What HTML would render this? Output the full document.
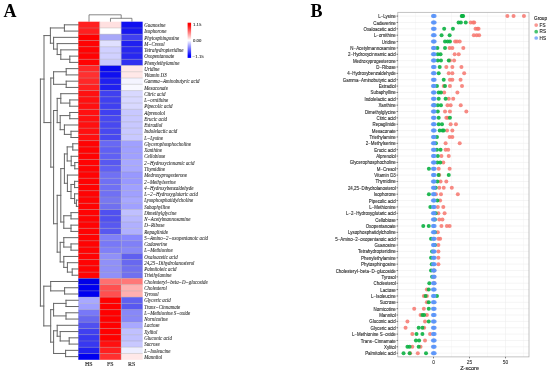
<!DOCTYPE html><html><head><meta charset="utf-8"><style>html,body{margin:0;padding:0;background:#fff;}svg{display:block}</style></head><body>
<svg width="550" height="375" viewBox="0 0 550 375">
<defs><filter id="tb" x="-5%" y="-20%" width="110%" height="140%"><feGaussianBlur stdDeviation="0.3"/></filter></defs>
<rect width="550" height="375" fill="#fff"/>
<text x="3.5" y="16.9" font-family="Liberation Serif, serif" font-weight="bold" font-size="18">A</text>
<text x="310.6" y="16.9" font-family="Liberation Serif, serif" font-weight="bold" font-size="18">B</text>
<rect x="78.3" y="21.7" width="21.45" height="6.31" fill="#FF2020"/>
<rect x="99.75" y="21.7" width="21.45" height="6.31" fill="#FFE0E0"/>
<rect x="121.2" y="21.7" width="21.45" height="6.31" fill="#1010F0"/>
<rect x="78.3" y="27.96" width="21.45" height="6.31" fill="#FF2020"/>
<rect x="99.75" y="27.96" width="21.45" height="6.31" fill="#FFFFFF"/>
<rect x="121.2" y="27.96" width="21.45" height="6.31" fill="#1818F0"/>
<rect x="78.3" y="34.22" width="21.45" height="6.31" fill="#FF0000"/>
<rect x="99.75" y="34.22" width="21.45" height="6.31" fill="#A8A8F8"/>
<rect x="121.2" y="34.22" width="21.45" height="6.31" fill="#4040F0"/>
<rect x="78.3" y="40.48" width="21.45" height="6.31" fill="#FF0303"/>
<rect x="99.75" y="40.48" width="21.45" height="6.31" fill="#E0E0FF"/>
<rect x="121.2" y="40.48" width="21.45" height="6.31" fill="#2020F0"/>
<rect x="78.3" y="46.74" width="21.45" height="6.31" fill="#FF0303"/>
<rect x="99.75" y="46.74" width="21.45" height="6.31" fill="#D0D0FF"/>
<rect x="121.2" y="46.74" width="21.45" height="6.31" fill="#2828F0"/>
<rect x="78.3" y="53" width="21.45" height="6.31" fill="#FF0303"/>
<rect x="99.75" y="53" width="21.45" height="6.31" fill="#D0D0FF"/>
<rect x="121.2" y="53" width="21.45" height="6.31" fill="#2828F0"/>
<rect x="78.3" y="59.26" width="21.45" height="6.31" fill="#FF0303"/>
<rect x="99.75" y="59.26" width="21.45" height="6.31" fill="#C8C8FF"/>
<rect x="121.2" y="59.26" width="21.45" height="6.31" fill="#3030F0"/>
<rect x="78.3" y="65.52" width="21.45" height="6.31" fill="#FF2828"/>
<rect x="99.75" y="65.52" width="21.45" height="6.31" fill="#0808F0"/>
<rect x="121.2" y="65.52" width="21.45" height="6.31" fill="#FFE8E8"/>
<rect x="78.3" y="71.78" width="21.45" height="6.31" fill="#FF3030"/>
<rect x="99.75" y="71.78" width="21.45" height="6.31" fill="#1010F0"/>
<rect x="121.2" y="71.78" width="21.45" height="6.31" fill="#FFE8E8"/>
<rect x="78.3" y="78.04" width="21.45" height="6.31" fill="#FF2828"/>
<rect x="99.75" y="78.04" width="21.45" height="6.31" fill="#2020F0"/>
<rect x="121.2" y="78.04" width="21.45" height="6.31" fill="#F4F4FF"/>
<rect x="78.3" y="84.3" width="21.45" height="6.31" fill="#FF2020"/>
<rect x="99.75" y="84.3" width="21.45" height="6.31" fill="#2020F0"/>
<rect x="121.2" y="84.3" width="21.45" height="6.31" fill="#F8F8FF"/>
<rect x="78.3" y="90.56" width="21.45" height="6.31" fill="#FF1010"/>
<rect x="99.75" y="90.56" width="21.45" height="6.31" fill="#4040F0"/>
<rect x="121.2" y="90.56" width="21.45" height="6.31" fill="#D8D8FF"/>
<rect x="78.3" y="96.82" width="21.45" height="6.31" fill="#FF1010"/>
<rect x="99.75" y="96.82" width="21.45" height="6.31" fill="#4040F0"/>
<rect x="121.2" y="96.82" width="21.45" height="6.31" fill="#D8D8FF"/>
<rect x="78.3" y="103.08" width="21.45" height="6.31" fill="#FF1010"/>
<rect x="99.75" y="103.08" width="21.45" height="6.31" fill="#4040F0"/>
<rect x="121.2" y="103.08" width="21.45" height="6.31" fill="#D8D8FF"/>
<rect x="78.3" y="109.34" width="21.45" height="6.31" fill="#FF1010"/>
<rect x="99.75" y="109.34" width="21.45" height="6.31" fill="#4040F0"/>
<rect x="121.2" y="109.34" width="21.45" height="6.31" fill="#C8C8FF"/>
<rect x="78.3" y="115.6" width="21.45" height="6.31" fill="#FF1010"/>
<rect x="99.75" y="115.6" width="21.45" height="6.31" fill="#4848F0"/>
<rect x="121.2" y="115.6" width="21.45" height="6.31" fill="#C8C8FF"/>
<rect x="78.3" y="121.86" width="21.45" height="6.31" fill="#FF1010"/>
<rect x="99.75" y="121.86" width="21.45" height="6.31" fill="#4848F0"/>
<rect x="121.2" y="121.86" width="21.45" height="6.31" fill="#C8C8FF"/>
<rect x="78.3" y="128.12" width="21.45" height="6.31" fill="#FF1010"/>
<rect x="99.75" y="128.12" width="21.45" height="6.31" fill="#4848F0"/>
<rect x="121.2" y="128.12" width="21.45" height="6.31" fill="#C8C8FF"/>
<rect x="78.3" y="134.38" width="21.45" height="6.31" fill="#FF1010"/>
<rect x="99.75" y="134.38" width="21.45" height="6.31" fill="#4848F0"/>
<rect x="121.2" y="134.38" width="21.45" height="6.31" fill="#C8C8FF"/>
<rect x="78.3" y="140.64" width="21.45" height="6.31" fill="#FF0303"/>
<rect x="99.75" y="140.64" width="21.45" height="6.31" fill="#6868F4"/>
<rect x="121.2" y="140.64" width="21.45" height="6.31" fill="#A0A0FF"/>
<rect x="78.3" y="146.9" width="21.45" height="6.31" fill="#FF0303"/>
<rect x="99.75" y="146.9" width="21.45" height="6.31" fill="#6060F4"/>
<rect x="121.2" y="146.9" width="21.45" height="6.31" fill="#A0A0FF"/>
<rect x="78.3" y="153.16" width="21.45" height="6.31" fill="#FF0303"/>
<rect x="99.75" y="153.16" width="21.45" height="6.31" fill="#6060F4"/>
<rect x="121.2" y="153.16" width="21.45" height="6.31" fill="#A0A0FF"/>
<rect x="78.3" y="159.42" width="21.45" height="6.31" fill="#FF0303"/>
<rect x="99.75" y="159.42" width="21.45" height="6.31" fill="#5858F0"/>
<rect x="121.2" y="159.42" width="21.45" height="6.31" fill="#A8A8FF"/>
<rect x="78.3" y="165.68" width="21.45" height="6.31" fill="#FF0303"/>
<rect x="99.75" y="165.68" width="21.45" height="6.31" fill="#6060F4"/>
<rect x="121.2" y="165.68" width="21.45" height="6.31" fill="#A8A8FF"/>
<rect x="78.3" y="171.94" width="21.45" height="6.31" fill="#FF0303"/>
<rect x="99.75" y="171.94" width="21.45" height="6.31" fill="#7070F4"/>
<rect x="121.2" y="171.94" width="21.45" height="6.31" fill="#9898FF"/>
<rect x="78.3" y="178.2" width="21.45" height="6.31" fill="#FF0303"/>
<rect x="99.75" y="178.2" width="21.45" height="6.31" fill="#7070F4"/>
<rect x="121.2" y="178.2" width="21.45" height="6.31" fill="#9898FF"/>
<rect x="78.3" y="184.46" width="21.45" height="6.31" fill="#FF0303"/>
<rect x="99.75" y="184.46" width="21.45" height="6.31" fill="#7070F4"/>
<rect x="121.2" y="184.46" width="21.45" height="6.31" fill="#A0A0FF"/>
<rect x="78.3" y="190.72" width="21.45" height="6.31" fill="#FF0303"/>
<rect x="99.75" y="190.72" width="21.45" height="6.31" fill="#7070F4"/>
<rect x="121.2" y="190.72" width="21.45" height="6.31" fill="#A0A0FF"/>
<rect x="78.3" y="196.98" width="21.45" height="6.31" fill="#FF0303"/>
<rect x="99.75" y="196.98" width="21.45" height="6.31" fill="#7878F0"/>
<rect x="121.2" y="196.98" width="21.45" height="6.31" fill="#A8A8FF"/>
<rect x="78.3" y="203.24" width="21.45" height="6.31" fill="#FF0303"/>
<rect x="99.75" y="203.24" width="21.45" height="6.31" fill="#7070F0"/>
<rect x="121.2" y="203.24" width="21.45" height="6.31" fill="#A0A0FF"/>
<rect x="78.3" y="209.5" width="21.45" height="6.31" fill="#FF0303"/>
<rect x="99.75" y="209.5" width="21.45" height="6.31" fill="#5050F0"/>
<rect x="121.2" y="209.5" width="21.45" height="6.31" fill="#C0C0FF"/>
<rect x="78.3" y="215.76" width="21.45" height="6.31" fill="#FF0303"/>
<rect x="99.75" y="215.76" width="21.45" height="6.31" fill="#5050F0"/>
<rect x="121.2" y="215.76" width="21.45" height="6.31" fill="#B8B8FF"/>
<rect x="78.3" y="222.02" width="21.45" height="6.31" fill="#FF0303"/>
<rect x="99.75" y="222.02" width="21.45" height="6.31" fill="#5858F0"/>
<rect x="121.2" y="222.02" width="21.45" height="6.31" fill="#B0B0FF"/>
<rect x="78.3" y="228.28" width="21.45" height="6.31" fill="#FF0303"/>
<rect x="99.75" y="228.28" width="21.45" height="6.31" fill="#5858F0"/>
<rect x="121.2" y="228.28" width="21.45" height="6.31" fill="#B0B0FF"/>
<rect x="78.3" y="234.54" width="21.45" height="6.31" fill="#FF0303"/>
<rect x="99.75" y="234.54" width="21.45" height="6.31" fill="#8080F8"/>
<rect x="121.2" y="234.54" width="21.45" height="6.31" fill="#8888FF"/>
<rect x="78.3" y="240.8" width="21.45" height="6.31" fill="#FF0303"/>
<rect x="99.75" y="240.8" width="21.45" height="6.31" fill="#7878F8"/>
<rect x="121.2" y="240.8" width="21.45" height="6.31" fill="#8080F8"/>
<rect x="78.3" y="247.06" width="21.45" height="6.31" fill="#FF0303"/>
<rect x="99.75" y="247.06" width="21.45" height="6.31" fill="#8080F8"/>
<rect x="121.2" y="247.06" width="21.45" height="6.31" fill="#8888F8"/>
<rect x="78.3" y="253.32" width="21.45" height="6.31" fill="#FF0303"/>
<rect x="99.75" y="253.32" width="21.45" height="6.31" fill="#9090F8"/>
<rect x="121.2" y="253.32" width="21.45" height="6.31" fill="#6060F0"/>
<rect x="78.3" y="259.58" width="21.45" height="6.31" fill="#FF0303"/>
<rect x="99.75" y="259.58" width="21.45" height="6.31" fill="#9090F8"/>
<rect x="121.2" y="259.58" width="21.45" height="6.31" fill="#6868F0"/>
<rect x="78.3" y="265.84" width="21.45" height="6.31" fill="#FF0303"/>
<rect x="99.75" y="265.84" width="21.45" height="6.31" fill="#9090F8"/>
<rect x="121.2" y="265.84" width="21.45" height="6.31" fill="#7070F0"/>
<rect x="78.3" y="272.1" width="21.45" height="6.31" fill="#FF0303"/>
<rect x="99.75" y="272.1" width="21.45" height="6.31" fill="#9090F8"/>
<rect x="121.2" y="272.1" width="21.45" height="6.31" fill="#7070F0"/>
<rect x="78.3" y="278.36" width="21.45" height="6.31" fill="#0000E8"/>
<rect x="99.75" y="278.36" width="21.45" height="6.31" fill="#FF7070"/>
<rect x="121.2" y="278.36" width="21.45" height="6.31" fill="#FF7878"/>
<rect x="78.3" y="284.62" width="21.45" height="6.31" fill="#0000F0"/>
<rect x="99.75" y="284.62" width="21.45" height="6.31" fill="#FF5050"/>
<rect x="121.2" y="284.62" width="21.45" height="6.31" fill="#FFB0B0"/>
<rect x="78.3" y="290.88" width="21.45" height="6.31" fill="#0000F0"/>
<rect x="99.75" y="290.88" width="21.45" height="6.31" fill="#FF5050"/>
<rect x="121.2" y="290.88" width="21.45" height="6.31" fill="#FFB0B0"/>
<rect x="78.3" y="297.14" width="21.45" height="6.31" fill="#A8A8FF"/>
<rect x="99.75" y="297.14" width="21.45" height="6.31" fill="#FF0000"/>
<rect x="121.2" y="297.14" width="21.45" height="6.31" fill="#6060F0"/>
<rect x="78.3" y="303.4" width="21.45" height="6.31" fill="#A0A0FF"/>
<rect x="99.75" y="303.4" width="21.45" height="6.31" fill="#FF0000"/>
<rect x="121.2" y="303.4" width="21.45" height="6.31" fill="#5858F0"/>
<rect x="78.3" y="309.66" width="21.45" height="6.31" fill="#7878F8"/>
<rect x="99.75" y="309.66" width="21.45" height="6.31" fill="#FF0000"/>
<rect x="121.2" y="309.66" width="21.45" height="6.31" fill="#8888F8"/>
<rect x="78.3" y="315.92" width="21.45" height="6.31" fill="#6868F0"/>
<rect x="99.75" y="315.92" width="21.45" height="6.31" fill="#FF0000"/>
<rect x="121.2" y="315.92" width="21.45" height="6.31" fill="#8888F8"/>
<rect x="78.3" y="322.18" width="21.45" height="6.31" fill="#5050F0"/>
<rect x="99.75" y="322.18" width="21.45" height="6.31" fill="#FF0000"/>
<rect x="121.2" y="322.18" width="21.45" height="6.31" fill="#A8A8FF"/>
<rect x="78.3" y="328.44" width="21.45" height="6.31" fill="#4040F0"/>
<rect x="99.75" y="328.44" width="21.45" height="6.31" fill="#FF0000"/>
<rect x="121.2" y="328.44" width="21.45" height="6.31" fill="#C0C0FF"/>
<rect x="78.3" y="334.7" width="21.45" height="6.31" fill="#3838F0"/>
<rect x="99.75" y="334.7" width="21.45" height="6.31" fill="#FF0000"/>
<rect x="121.2" y="334.7" width="21.45" height="6.31" fill="#C0C0FF"/>
<rect x="78.3" y="340.96" width="21.45" height="6.31" fill="#3838F0"/>
<rect x="99.75" y="340.96" width="21.45" height="6.31" fill="#FF1010"/>
<rect x="121.2" y="340.96" width="21.45" height="6.31" fill="#C8C8FF"/>
<rect x="78.3" y="347.22" width="21.45" height="6.31" fill="#2020F0"/>
<rect x="99.75" y="347.22" width="21.45" height="6.31" fill="#FF2020"/>
<rect x="121.2" y="347.22" width="21.45" height="6.31" fill="#EEEEFF"/>
<rect x="78.3" y="353.48" width="21.45" height="6.31" fill="#0000F0"/>
<rect x="99.75" y="353.48" width="21.45" height="6.31" fill="#FF3030"/>
<rect x="121.2" y="353.48" width="21.45" height="6.31" fill="#FFE8E8"/>
<path d="M78.3 27.96H142.65M78.3 34.22H142.65M78.3 40.48H142.65M78.3 46.74H142.65M78.3 53H142.65M78.3 59.26H142.65M78.3 65.52H142.65M78.3 71.78H142.65M78.3 78.04H142.65M78.3 84.3H142.65M78.3 90.56H142.65M78.3 96.82H142.65M78.3 103.08H142.65M78.3 109.34H142.65M78.3 115.6H142.65M78.3 121.86H142.65M78.3 128.12H142.65M78.3 134.38H142.65M78.3 140.64H142.65M78.3 146.9H142.65M78.3 153.16H142.65M78.3 159.42H142.65M78.3 165.68H142.65M78.3 171.94H142.65M78.3 178.2H142.65M78.3 184.46H142.65M78.3 190.72H142.65M78.3 196.98H142.65M78.3 203.24H142.65M78.3 209.5H142.65M78.3 215.76H142.65M78.3 222.02H142.65M78.3 228.28H142.65M78.3 234.54H142.65M78.3 240.8H142.65M78.3 247.06H142.65M78.3 253.32H142.65M78.3 259.58H142.65M78.3 265.84H142.65M78.3 272.1H142.65M78.3 278.36H142.65M78.3 284.62H142.65M78.3 290.88H142.65M78.3 297.14H142.65M78.3 303.4H142.65M78.3 309.66H142.65M78.3 315.92H142.65M78.3 322.18H142.65M78.3 328.44H142.65M78.3 334.7H142.65M78.3 340.96H142.65M78.3 347.22H142.65M78.3 353.48H142.65" stroke="#a0a0a0" stroke-opacity="0.5" stroke-width="0.7" fill="none"/>
<path d="M99.75 21.7V359.74M121.2 21.7V359.74" stroke="#b0b0b0" stroke-opacity="0.5" stroke-width="0.8" fill="none"/>
<path d="M64.4 24.83L64.4 31.09M64.4 24.83L78.3 24.83M64.4 31.09L78.3 31.09M69.8 56.13L69.8 62.39M69.8 56.13L78.3 56.13M69.8 62.39L78.3 62.39M60.8 49.87L60.8 59.26M60.8 49.87L78.3 49.87M60.8 59.26L69.8 59.26M57.2 43.61L57.2 54.56M57.2 43.61L78.3 43.61M57.2 54.56L60.8 54.56M53.6 37.35L53.6 49.09M53.6 37.35L78.3 37.35M53.6 49.09L57.2 49.09M50.4 27.96L50.4 43.22M50.4 27.96L64.4 27.96M50.4 43.22L53.6 43.22M66.2 68.65L66.2 74.91M66.2 68.65L78.3 68.65M66.2 74.91L78.3 74.91M66.2 81.17L66.2 87.43M66.2 81.17L78.3 81.17M66.2 87.43L78.3 87.43M53.6 71.78L53.6 84.3M53.6 71.78L66.2 71.78M53.6 84.3L66.2 84.3M69.8 99.95L69.8 106.21M69.8 99.95L78.3 99.95M69.8 106.21L78.3 106.21M60.8 93.69L60.8 103.08M60.8 93.69L78.3 93.69M60.8 103.08L69.8 103.08M69.8 112.47L69.8 118.73M69.8 112.47L78.3 112.47M69.8 118.73L78.3 118.73M71 131.25L71 137.51M71 131.25L78.3 131.25M71 137.51L78.3 137.51M64.4 124.99L64.4 134.38M64.4 124.99L78.3 124.99M64.4 134.38L71 134.38M60.2 115.6L60.2 129.69M60.2 115.6L69.8 115.6M60.2 129.69L64.4 129.69M57.2 98.38L57.2 122.64M57.2 98.38L60.8 98.38M57.2 122.64L60.2 122.64M72.8 143.77L72.8 150.03M72.8 143.77L78.3 143.77M72.8 150.03L78.3 150.03M74.8 162.55L74.8 168.81M74.8 162.55L78.3 162.55M74.8 168.81L78.3 168.81M71.2 156.29L71.2 165.68M71.2 156.29L78.3 156.29M71.2 165.68L74.8 165.68M67.2 146.9L67.2 160.98M67.2 146.9L72.8 146.9M67.2 160.98L71.2 160.98M74.6 181.33L74.6 187.59M74.6 181.33L78.3 181.33M74.6 187.59L78.3 187.59M76.4 200.11L76.4 206.37M76.4 200.11L78.3 200.11M76.4 206.37L78.3 206.37M74.6 193.85L74.6 203.24M74.6 193.85L78.3 193.85M74.6 203.24L76.4 203.24M71 184.46L71 198.54M71 184.46L74.6 184.46M71 198.54L74.6 198.54M67.4 175.07L67.4 191.5M67.4 175.07L78.3 175.07M67.4 191.5L71 191.5M64.4 153.94L64.4 183.29M64.4 153.94L67.2 153.94M64.4 183.29L67.4 183.29M71 212.63L71 218.89M71 212.63L78.3 212.63M71 218.89L78.3 218.89M71 225.15L71 231.41M71 225.15L78.3 225.15M71 231.41L78.3 231.41M63.8 215.76L63.8 228.28M63.8 215.76L71 215.76M63.8 228.28L71 228.28M60.8 168.61L60.8 222.02M60.8 168.61L64.4 168.61M60.8 222.02L63.8 222.02M71 243.93L71 250.19M71 243.93L78.3 243.93M71 250.19L78.3 250.19M63.8 237.67L63.8 247.06M63.8 237.67L78.3 237.67M63.8 247.06L71 247.06M72.2 268.97L72.2 275.23M72.2 268.97L78.3 268.97M72.2 275.23L78.3 275.23M67.4 262.71L67.4 272.1M67.4 262.71L78.3 262.71M67.4 272.1L72.2 272.1M63.8 256.45L63.8 267.4M63.8 256.45L78.3 256.45M63.8 267.4L67.4 267.4M60.2 242.36L60.2 261.93M60.2 242.36L63.8 242.36M60.2 261.93L63.8 261.93M57.2 195.32L57.2 252.15M57.2 195.32L60.8 195.32M57.2 252.15L60.2 252.15M53.6 110.51L53.6 223.73M53.6 110.51L57.2 110.51M53.6 223.73L57.2 223.73M50.8 78.04L50.8 167.12M50.8 78.04L53.6 78.04M50.8 167.12L53.6 167.12M44 35.59L44 122.58M44 35.59L50.4 35.59M44 122.58L50.8 122.58M64.6 287.75L64.6 294.01M64.6 287.75L78.3 287.75M64.6 294.01L78.3 294.01M50.7 281.49L50.7 290.88M50.7 281.49L78.3 281.49M50.7 290.88L64.6 290.88M66 300.27L66 306.53M66 300.27L78.3 300.27M66 306.53L78.3 306.53M66 312.79L66 319.05M66 312.79L78.3 312.79M66 319.05L78.3 319.05M53.6 303.4L53.6 315.92M53.6 303.4L66 303.4M53.6 315.92L66 315.92M69.2 337.83L69.2 344.09M69.2 337.83L78.3 337.83M69.2 344.09L78.3 344.09M60.2 331.57L60.2 340.96M60.2 331.57L78.3 331.57M60.2 340.96L69.2 340.96M57.2 325.31L57.2 336.26M57.2 325.31L78.3 325.31M57.2 336.26L60.2 336.26M65.6 350.35L65.6 356.61M65.6 350.35L78.3 350.35M65.6 356.61L78.3 356.61M53.6 330.79L53.6 353.48M53.6 330.79L57.2 330.79M53.6 353.48L65.6 353.48M50.7 309.66L50.7 342.13M50.7 309.66L53.6 309.66M50.7 342.13L53.6 342.13M43.8 286.18L43.8 325.9M43.8 286.18L50.7 286.18M43.8 325.9L50.7 325.9M40.4 79.09L40.4 306.04M40.4 79.09L44 79.09M40.4 306.04L43.8 306.04" stroke="#666" stroke-width="1" fill="none" stroke-linecap="square"/>
<path d="M89.02 21.7V14.8H121.2V18.3M110.47 21.7V18.3H131.93V21.7" stroke="#555" stroke-width="0.7" fill="none"/>
<g transform="translate(144.2 0) scale(0.91 1)" font-family="Liberation Serif, serif" font-style="italic" font-size="5.4" fill="#2a2a2a" stroke="#2a2a2a" stroke-width="0.08" filter="url(#tb)">
<text x="0" y="27.03">Guanosine</text>
<text x="0" y="33.29">Isophorone</text>
<text x="0" y="39.55">Phytosphingosine</text>
<text x="0" y="45.81">M−Cresol</text>
<text x="0" y="52.07">Tetrahydropteridine</text>
<text x="0" y="58.33">Oxopentanoate</text>
<text x="0" y="64.59">Phenylethylamine</text>
<text x="0" y="70.85">Uridine</text>
<text x="0" y="77.11">Vitamin D3</text>
<text x="0" y="83.37">Gamma−Aminobutyric acid</text>
<text x="0" y="89.63">Mesaconate</text>
<text x="0" y="95.89">Citric acid</text>
<text x="0" y="102.15">L−ornithine</text>
<text x="0" y="108.41">Pipecolic acid</text>
<text x="0" y="114.67">Alprenolol</text>
<text x="0" y="120.93">Erucic acid</text>
<text x="0" y="127.19">Estradiol</text>
<text x="0" y="133.45">Indolelactic acid</text>
<text x="0" y="139.71">L−Lysine</text>
<text x="0" y="145.97">Glycerophosphocholine</text>
<text x="0" y="152.23">Xanthine</text>
<text x="0" y="158.49">Cellobiose</text>
<text x="0" y="164.75">2−Hydroxycinnamic acid</text>
<text x="0" y="171.01">Thymidine</text>
<text x="0" y="177.27">Medroxyprogesterone</text>
<text x="0" y="183.53">2−Methylserine</text>
<text x="0" y="189.79">4−Hydroxybenzaldehyde</text>
<text x="0" y="196.05">L−2−Hydroxyglutaric acid</text>
<text x="0" y="202.31">Lysophosphatidylcholine</text>
<text x="0" y="208.57">Subaphylline</text>
<text x="0" y="214.83">Dimethylglycine</text>
<text x="0" y="221.09">N−Acetylmannosamine</text>
<text x="0" y="227.35">D−Ribose</text>
<text x="0" y="233.61">Repaglinide</text>
<text x="0" y="239.87">5−Amino−2−oxopentanoic acid</text>
<text x="0" y="246.13">Cadaverine</text>
<text x="0" y="252.39">L−Methionine</text>
<text x="0" y="258.65">Oxaloacetic acid</text>
<text x="0" y="264.91">24,25−Dihydrolanosterol</text>
<text x="0" y="271.17">Palmitoleic acid</text>
<text x="0" y="277.43">Triethylamine</text>
<text x="0" y="283.69">Cholesteryl−beta−D−glucoside</text>
<text x="0" y="289.95">Cholesterol</text>
<text x="0" y="296.21">Tyrosol</text>
<text x="0" y="302.47">Glyceric acid</text>
<text x="0" y="308.73">Trans−Cinnamate</text>
<text x="0" y="314.99">L−Methionine S−oxide</text>
<text x="0" y="321.25">Nornicotine</text>
<text x="0" y="327.51">Lactose</text>
<text x="0" y="333.77">Xylitol</text>
<text x="0" y="340.03">Gluconic acid</text>
<text x="0" y="346.29">Sucrose</text>
<text x="0" y="352.55">L−Isoleucine</text>
<text x="0" y="358.81">Mannitol</text>
</g>
<g font-family="Liberation Serif, serif" font-size="5.9" fill="#2a2a2a" stroke="#2a2a2a" stroke-width="0.14" text-anchor="middle" filter="url(#tb)">
<text x="88.72" y="365.9">HS</text>
<text x="110.17" y="365.9">FS</text>
<text x="131.62" y="365.9">RS</text>
</g>
<defs><linearGradient id="lg" x1="0" y1="0" x2="0" y2="1"><stop offset="0" stop-color="#f00"/><stop offset="0.06" stop-color="#f00"/><stop offset="0.5" stop-color="#fff"/><stop offset="0.94" stop-color="#00f"/><stop offset="1" stop-color="#00f"/></linearGradient></defs>
<rect x="187.6" y="22.7" width="3.5" height="35.2" fill="url(#lg)"/>
<g font-family="Liberation Serif, serif" font-size="4.8" fill="#333" stroke="#333" stroke-width="0.1" filter="url(#tb)">
<text x="193" y="26.4">1.15</text>
<text x="193" y="42">0.00</text>
<text x="192.6" y="57.7">−1.15</text>
</g>
<rect x="397.8" y="12.3" width="131.2" height="344.6" fill="#fff"/>
<path d="M415.5 12.3V356.9M451.5 12.3V356.9M487.5 12.3V356.9M523.5 12.3V356.9" stroke="#f2f2f2" stroke-width="0.5" fill="none"/>
<path d="M433.5 12.3V356.9M469.5 12.3V356.9M505.5 12.3V356.9M397.8 16.1H529M397.8 22.46H529M397.8 28.82H529M397.8 35.18H529M397.8 41.54H529M397.8 47.9H529M397.8 54.26H529M397.8 60.62H529M397.8 66.98H529M397.8 73.34H529M397.8 79.7H529M397.8 86.06H529M397.8 92.42H529M397.8 98.78H529M397.8 105.14H529M397.8 111.5H529M397.8 117.86H529M397.8 124.22H529M397.8 130.58H529M397.8 136.94H529M397.8 143.3H529M397.8 149.66H529M397.8 156.02H529M397.8 162.38H529M397.8 168.74H529M397.8 175.1H529M397.8 181.46H529M397.8 187.82H529M397.8 194.18H529M397.8 200.54H529M397.8 206.9H529M397.8 213.26H529M397.8 219.62H529M397.8 225.98H529M397.8 232.34H529M397.8 238.7H529M397.8 245.06H529M397.8 251.42H529M397.8 257.78H529M397.8 264.14H529M397.8 270.5H529M397.8 276.86H529M397.8 283.22H529M397.8 289.58H529M397.8 295.94H529M397.8 302.3H529M397.8 308.66H529M397.8 315.02H529M397.8 321.38H529M397.8 327.74H529M397.8 334.1H529M397.8 340.46H529M397.8 346.82H529M397.8 353.18H529" stroke="#ececec" stroke-width="0.55" fill="none"/>
<circle cx="507.37" cy="16.1" r="2" fill="#F6756D" fill-opacity="0.85"/>
<circle cx="513.56" cy="16.1" r="2" fill="#F6756D" fill-opacity="0.85"/>
<circle cx="523.93" cy="16.1" r="2" fill="#F6756D" fill-opacity="0.85"/>
<circle cx="461.72" cy="16.1" r="2" fill="#0AB040" fill-opacity="0.9"/>
<circle cx="462.44" cy="16.1" r="2" fill="#0AB040" fill-opacity="0.9"/>
<circle cx="463.16" cy="16.1" r="2" fill="#0AB040" fill-opacity="0.9"/>
<circle cx="432.92" cy="16.1" r="2" fill="#5C95F8" fill-opacity="0.88"/>
<circle cx="433.79" cy="16.1" r="2" fill="#5C95F8" fill-opacity="0.88"/>
<circle cx="434.65" cy="16.1" r="2" fill="#5C95F8" fill-opacity="0.88"/>
<circle cx="470.65" cy="22.46" r="2" fill="#F6756D" fill-opacity="0.85"/>
<circle cx="473.1" cy="22.46" r="2" fill="#F6756D" fill-opacity="0.85"/>
<circle cx="474.25" cy="22.46" r="2" fill="#F6756D" fill-opacity="0.85"/>
<circle cx="458.56" cy="22.46" r="2" fill="#0AB040" fill-opacity="0.9"/>
<circle cx="460.86" cy="22.46" r="2" fill="#0AB040" fill-opacity="0.9"/>
<circle cx="465.76" cy="22.46" r="2" fill="#0AB040" fill-opacity="0.9"/>
<circle cx="432.92" cy="22.46" r="2" fill="#5C95F8" fill-opacity="0.88"/>
<circle cx="433.79" cy="22.46" r="2" fill="#5C95F8" fill-opacity="0.88"/>
<circle cx="434.65" cy="22.46" r="2" fill="#5C95F8" fill-opacity="0.88"/>
<circle cx="475.55" cy="28.82" r="2" fill="#F6756D" fill-opacity="0.85"/>
<circle cx="477.42" cy="28.82" r="2" fill="#F6756D" fill-opacity="0.85"/>
<circle cx="478.57" cy="28.82" r="2" fill="#F6756D" fill-opacity="0.85"/>
<circle cx="444.16" cy="28.82" r="2" fill="#0AB040" fill-opacity="0.9"/>
<circle cx="452.94" cy="28.82" r="2" fill="#0AB040" fill-opacity="0.9"/>
<circle cx="432.92" cy="28.82" r="2" fill="#5C95F8" fill-opacity="0.88"/>
<circle cx="433.79" cy="28.82" r="2" fill="#5C95F8" fill-opacity="0.88"/>
<circle cx="434.65" cy="28.82" r="2" fill="#5C95F8" fill-opacity="0.88"/>
<circle cx="473.82" cy="35.18" r="2" fill="#F6756D" fill-opacity="0.85"/>
<circle cx="476.7" cy="35.18" r="2" fill="#F6756D" fill-opacity="0.85"/>
<circle cx="479.15" cy="35.18" r="2" fill="#F6756D" fill-opacity="0.85"/>
<circle cx="441.56" cy="35.18" r="2" fill="#0AB040" fill-opacity="0.9"/>
<circle cx="449.63" cy="35.18" r="2" fill="#0AB040" fill-opacity="0.9"/>
<circle cx="432.92" cy="35.18" r="2" fill="#5C95F8" fill-opacity="0.88"/>
<circle cx="433.79" cy="35.18" r="2" fill="#5C95F8" fill-opacity="0.88"/>
<circle cx="434.65" cy="35.18" r="2" fill="#5C95F8" fill-opacity="0.88"/>
<circle cx="455.1" cy="41.54" r="2" fill="#F6756D" fill-opacity="0.85"/>
<circle cx="456.97" cy="41.54" r="2" fill="#F6756D" fill-opacity="0.85"/>
<circle cx="459.71" cy="41.54" r="2" fill="#F6756D" fill-opacity="0.85"/>
<circle cx="445.02" cy="41.54" r="2" fill="#0AB040" fill-opacity="0.9"/>
<circle cx="447.61" cy="41.54" r="2" fill="#0AB040" fill-opacity="0.9"/>
<circle cx="449.92" cy="41.54" r="2" fill="#0AB040" fill-opacity="0.9"/>
<circle cx="432.92" cy="41.54" r="2" fill="#5C95F8" fill-opacity="0.88"/>
<circle cx="433.79" cy="41.54" r="2" fill="#5C95F8" fill-opacity="0.88"/>
<circle cx="434.65" cy="41.54" r="2" fill="#5C95F8" fill-opacity="0.88"/>
<circle cx="449.63" cy="47.9" r="2" fill="#F6756D" fill-opacity="0.85"/>
<circle cx="452.36" cy="47.9" r="2" fill="#F6756D" fill-opacity="0.85"/>
<circle cx="463.31" cy="47.9" r="2" fill="#F6756D" fill-opacity="0.85"/>
<circle cx="437.39" cy="47.9" r="2" fill="#0AB040" fill-opacity="0.9"/>
<circle cx="445.02" cy="47.9" r="2" fill="#0AB040" fill-opacity="0.9"/>
<circle cx="432.92" cy="47.9" r="2" fill="#5C95F8" fill-opacity="0.88"/>
<circle cx="433.79" cy="47.9" r="2" fill="#5C95F8" fill-opacity="0.88"/>
<circle cx="434.65" cy="47.9" r="2" fill="#5C95F8" fill-opacity="0.88"/>
<circle cx="454.67" cy="54.26" r="2" fill="#F6756D" fill-opacity="0.85"/>
<circle cx="458.7" cy="54.26" r="2" fill="#F6756D" fill-opacity="0.85"/>
<circle cx="437.82" cy="54.26" r="2" fill="#0AB040" fill-opacity="0.9"/>
<circle cx="440.56" cy="54.26" r="2" fill="#0AB040" fill-opacity="0.9"/>
<circle cx="432.92" cy="54.26" r="2" fill="#5C95F8" fill-opacity="0.88"/>
<circle cx="433.79" cy="54.26" r="2" fill="#5C95F8" fill-opacity="0.88"/>
<circle cx="434.65" cy="54.26" r="2" fill="#5C95F8" fill-opacity="0.88"/>
<circle cx="449.92" cy="60.62" r="2" fill="#F6756D" fill-opacity="0.85"/>
<circle cx="454.09" cy="60.62" r="2" fill="#F6756D" fill-opacity="0.85"/>
<circle cx="437.82" cy="60.62" r="2" fill="#0AB040" fill-opacity="0.9"/>
<circle cx="440.99" cy="60.62" r="2" fill="#0AB040" fill-opacity="0.9"/>
<circle cx="448.76" cy="60.62" r="2" fill="#0AB040" fill-opacity="0.9"/>
<circle cx="432.92" cy="60.62" r="2" fill="#5C95F8" fill-opacity="0.88"/>
<circle cx="433.79" cy="60.62" r="2" fill="#5C95F8" fill-opacity="0.88"/>
<circle cx="434.65" cy="60.62" r="2" fill="#5C95F8" fill-opacity="0.88"/>
<circle cx="446.32" cy="66.98" r="2" fill="#F6756D" fill-opacity="0.85"/>
<circle cx="452.36" cy="66.98" r="2" fill="#F6756D" fill-opacity="0.85"/>
<circle cx="461.44" cy="66.98" r="2" fill="#F6756D" fill-opacity="0.85"/>
<circle cx="439.69" cy="66.98" r="2" fill="#0AB040" fill-opacity="0.9"/>
<circle cx="432.92" cy="66.98" r="2" fill="#5C95F8" fill-opacity="0.88"/>
<circle cx="433.79" cy="66.98" r="2" fill="#5C95F8" fill-opacity="0.88"/>
<circle cx="434.65" cy="66.98" r="2" fill="#5C95F8" fill-opacity="0.88"/>
<circle cx="448.76" cy="73.34" r="2" fill="#F6756D" fill-opacity="0.85"/>
<circle cx="452.36" cy="73.34" r="2" fill="#F6756D" fill-opacity="0.85"/>
<circle cx="464.17" cy="73.34" r="2" fill="#F6756D" fill-opacity="0.85"/>
<circle cx="438.68" cy="73.34" r="2" fill="#0AB040" fill-opacity="0.9"/>
<circle cx="432.92" cy="73.34" r="2" fill="#5C95F8" fill-opacity="0.88"/>
<circle cx="433.79" cy="73.34" r="2" fill="#5C95F8" fill-opacity="0.88"/>
<circle cx="434.65" cy="73.34" r="2" fill="#5C95F8" fill-opacity="0.88"/>
<circle cx="449.92" cy="79.7" r="2" fill="#F6756D" fill-opacity="0.85"/>
<circle cx="452.36" cy="79.7" r="2" fill="#F6756D" fill-opacity="0.85"/>
<circle cx="460.57" cy="79.7" r="2" fill="#F6756D" fill-opacity="0.85"/>
<circle cx="443.72" cy="79.7" r="2" fill="#0AB040" fill-opacity="0.9"/>
<circle cx="432.92" cy="79.7" r="2" fill="#5C95F8" fill-opacity="0.88"/>
<circle cx="433.79" cy="79.7" r="2" fill="#5C95F8" fill-opacity="0.88"/>
<circle cx="434.65" cy="79.7" r="2" fill="#5C95F8" fill-opacity="0.88"/>
<circle cx="443.72" cy="86.06" r="2" fill="#F6756D" fill-opacity="0.85"/>
<circle cx="449.92" cy="86.06" r="2" fill="#F6756D" fill-opacity="0.85"/>
<circle cx="462.01" cy="86.06" r="2" fill="#F6756D" fill-opacity="0.85"/>
<circle cx="436.96" cy="86.06" r="2" fill="#0AB040" fill-opacity="0.9"/>
<circle cx="445.02" cy="86.06" r="2" fill="#0AB040" fill-opacity="0.9"/>
<circle cx="432.92" cy="86.06" r="2" fill="#5C95F8" fill-opacity="0.88"/>
<circle cx="433.79" cy="86.06" r="2" fill="#5C95F8" fill-opacity="0.88"/>
<circle cx="434.65" cy="86.06" r="2" fill="#5C95F8" fill-opacity="0.88"/>
<circle cx="444.16" cy="92.42" r="2" fill="#F6756D" fill-opacity="0.85"/>
<circle cx="457.4" cy="92.42" r="2" fill="#F6756D" fill-opacity="0.85"/>
<circle cx="438.68" cy="92.42" r="2" fill="#0AB040" fill-opacity="0.9"/>
<circle cx="440.99" cy="92.42" r="2" fill="#0AB040" fill-opacity="0.9"/>
<circle cx="432.92" cy="92.42" r="2" fill="#5C95F8" fill-opacity="0.88"/>
<circle cx="433.79" cy="92.42" r="2" fill="#5C95F8" fill-opacity="0.88"/>
<circle cx="434.65" cy="92.42" r="2" fill="#5C95F8" fill-opacity="0.88"/>
<circle cx="448.76" cy="98.78" r="2" fill="#F6756D" fill-opacity="0.85"/>
<circle cx="453.23" cy="98.78" r="2" fill="#F6756D" fill-opacity="0.85"/>
<circle cx="438.68" cy="98.78" r="2" fill="#0AB040" fill-opacity="0.9"/>
<circle cx="445.6" cy="98.78" r="2" fill="#0AB040" fill-opacity="0.9"/>
<circle cx="432.92" cy="98.78" r="2" fill="#5C95F8" fill-opacity="0.88"/>
<circle cx="433.79" cy="98.78" r="2" fill="#5C95F8" fill-opacity="0.88"/>
<circle cx="434.65" cy="98.78" r="2" fill="#5C95F8" fill-opacity="0.88"/>
<circle cx="447.47" cy="105.14" r="2" fill="#F6756D" fill-opacity="0.85"/>
<circle cx="450.64" cy="105.14" r="2" fill="#F6756D" fill-opacity="0.85"/>
<circle cx="460.72" cy="105.14" r="2" fill="#F6756D" fill-opacity="0.85"/>
<circle cx="434.22" cy="105.14" r="2" fill="#0AB040" fill-opacity="0.9"/>
<circle cx="437.82" cy="105.14" r="2" fill="#0AB040" fill-opacity="0.9"/>
<circle cx="440.99" cy="105.14" r="2" fill="#0AB040" fill-opacity="0.9"/>
<circle cx="432.92" cy="105.14" r="2" fill="#5C95F8" fill-opacity="0.88"/>
<circle cx="433.79" cy="105.14" r="2" fill="#5C95F8" fill-opacity="0.88"/>
<circle cx="434.65" cy="105.14" r="2" fill="#5C95F8" fill-opacity="0.88"/>
<circle cx="445.02" cy="111.5" r="2" fill="#F6756D" fill-opacity="0.85"/>
<circle cx="449.92" cy="111.5" r="2" fill="#F6756D" fill-opacity="0.85"/>
<circle cx="466.33" cy="111.5" r="2" fill="#F6756D" fill-opacity="0.85"/>
<circle cx="437.82" cy="111.5" r="2" fill="#0AB040" fill-opacity="0.9"/>
<circle cx="432.92" cy="111.5" r="2" fill="#5C95F8" fill-opacity="0.88"/>
<circle cx="433.79" cy="111.5" r="2" fill="#5C95F8" fill-opacity="0.88"/>
<circle cx="434.65" cy="111.5" r="2" fill="#5C95F8" fill-opacity="0.88"/>
<circle cx="446.32" cy="117.86" r="2" fill="#F6756D" fill-opacity="0.85"/>
<circle cx="447.9" cy="117.86" r="2" fill="#F6756D" fill-opacity="0.85"/>
<circle cx="438.68" cy="117.86" r="2" fill="#0AB040" fill-opacity="0.9"/>
<circle cx="449.92" cy="117.86" r="2" fill="#0AB040" fill-opacity="0.9"/>
<circle cx="432.92" cy="117.86" r="2" fill="#5C95F8" fill-opacity="0.88"/>
<circle cx="433.79" cy="117.86" r="2" fill="#5C95F8" fill-opacity="0.88"/>
<circle cx="434.65" cy="117.86" r="2" fill="#5C95F8" fill-opacity="0.88"/>
<circle cx="450.64" cy="124.22" r="2" fill="#F6756D" fill-opacity="0.85"/>
<circle cx="455.96" cy="124.22" r="2" fill="#F6756D" fill-opacity="0.85"/>
<circle cx="438.68" cy="124.22" r="2" fill="#0AB040" fill-opacity="0.9"/>
<circle cx="442" cy="124.22" r="2" fill="#0AB040" fill-opacity="0.9"/>
<circle cx="432.92" cy="124.22" r="2" fill="#5C95F8" fill-opacity="0.88"/>
<circle cx="433.79" cy="124.22" r="2" fill="#5C95F8" fill-opacity="0.88"/>
<circle cx="434.65" cy="124.22" r="2" fill="#5C95F8" fill-opacity="0.88"/>
<circle cx="447.04" cy="130.58" r="2" fill="#F6756D" fill-opacity="0.85"/>
<circle cx="452.36" cy="130.58" r="2" fill="#F6756D" fill-opacity="0.85"/>
<circle cx="439.69" cy="130.58" r="2" fill="#0AB040" fill-opacity="0.9"/>
<circle cx="442.43" cy="130.58" r="2" fill="#0AB040" fill-opacity="0.9"/>
<circle cx="443.72" cy="130.58" r="2" fill="#0AB040" fill-opacity="0.9"/>
<circle cx="432.92" cy="130.58" r="2" fill="#5C95F8" fill-opacity="0.88"/>
<circle cx="433.79" cy="130.58" r="2" fill="#5C95F8" fill-opacity="0.88"/>
<circle cx="434.65" cy="130.58" r="2" fill="#5C95F8" fill-opacity="0.88"/>
<circle cx="449.63" cy="136.94" r="2" fill="#F6756D" fill-opacity="0.85"/>
<circle cx="452.36" cy="136.94" r="2" fill="#F6756D" fill-opacity="0.85"/>
<circle cx="436.96" cy="136.94" r="2" fill="#0AB040" fill-opacity="0.9"/>
<circle cx="432.92" cy="136.94" r="2" fill="#5C95F8" fill-opacity="0.88"/>
<circle cx="433.79" cy="136.94" r="2" fill="#5C95F8" fill-opacity="0.88"/>
<circle cx="434.65" cy="136.94" r="2" fill="#5C95F8" fill-opacity="0.88"/>
<circle cx="445.6" cy="143.3" r="2" fill="#F6756D" fill-opacity="0.85"/>
<circle cx="459.71" cy="143.3" r="2" fill="#F6756D" fill-opacity="0.85"/>
<circle cx="435.95" cy="143.3" r="2" fill="#0AB040" fill-opacity="0.9"/>
<circle cx="432.92" cy="143.3" r="2" fill="#5C95F8" fill-opacity="0.88"/>
<circle cx="433.79" cy="143.3" r="2" fill="#5C95F8" fill-opacity="0.88"/>
<circle cx="434.65" cy="143.3" r="2" fill="#5C95F8" fill-opacity="0.88"/>
<circle cx="445.6" cy="149.66" r="2" fill="#F6756D" fill-opacity="0.85"/>
<circle cx="448.19" cy="149.66" r="2" fill="#F6756D" fill-opacity="0.85"/>
<circle cx="436.96" cy="149.66" r="2" fill="#0AB040" fill-opacity="0.9"/>
<circle cx="440.56" cy="149.66" r="2" fill="#0AB040" fill-opacity="0.9"/>
<circle cx="432.92" cy="149.66" r="2" fill="#5C95F8" fill-opacity="0.88"/>
<circle cx="433.79" cy="149.66" r="2" fill="#5C95F8" fill-opacity="0.88"/>
<circle cx="434.65" cy="149.66" r="2" fill="#5C95F8" fill-opacity="0.88"/>
<circle cx="441.42" cy="156.02" r="2" fill="#F6756D" fill-opacity="0.85"/>
<circle cx="448.76" cy="156.02" r="2" fill="#F6756D" fill-opacity="0.85"/>
<circle cx="437.82" cy="156.02" r="2" fill="#0AB040" fill-opacity="0.9"/>
<circle cx="432.92" cy="156.02" r="2" fill="#5C95F8" fill-opacity="0.88"/>
<circle cx="433.79" cy="156.02" r="2" fill="#5C95F8" fill-opacity="0.88"/>
<circle cx="434.65" cy="156.02" r="2" fill="#5C95F8" fill-opacity="0.88"/>
<circle cx="443.29" cy="162.38" r="2" fill="#F6756D" fill-opacity="0.85"/>
<circle cx="437.39" cy="162.38" r="2" fill="#0AB040" fill-opacity="0.9"/>
<circle cx="440.27" cy="162.38" r="2" fill="#0AB040" fill-opacity="0.9"/>
<circle cx="432.92" cy="162.38" r="2" fill="#5C95F8" fill-opacity="0.88"/>
<circle cx="433.79" cy="162.38" r="2" fill="#5C95F8" fill-opacity="0.88"/>
<circle cx="434.65" cy="162.38" r="2" fill="#5C95F8" fill-opacity="0.88"/>
<circle cx="438.68" cy="168.74" r="2" fill="#F6756D" fill-opacity="0.85"/>
<circle cx="449.63" cy="168.74" r="2" fill="#F6756D" fill-opacity="0.85"/>
<circle cx="428.89" cy="168.74" r="2" fill="#0AB040" fill-opacity="0.9"/>
<circle cx="432.92" cy="168.74" r="2" fill="#5C95F8" fill-opacity="0.88"/>
<circle cx="433.79" cy="168.74" r="2" fill="#5C95F8" fill-opacity="0.88"/>
<circle cx="434.65" cy="168.74" r="2" fill="#5C95F8" fill-opacity="0.88"/>
<circle cx="439.26" cy="175.1" r="2" fill="#F6756D" fill-opacity="0.85"/>
<circle cx="438.54" cy="175.1" r="2" fill="#0AB040" fill-opacity="0.9"/>
<circle cx="448.76" cy="175.1" r="2" fill="#0AB040" fill-opacity="0.9"/>
<circle cx="432.92" cy="175.1" r="2" fill="#5C95F8" fill-opacity="0.88"/>
<circle cx="433.79" cy="175.1" r="2" fill="#5C95F8" fill-opacity="0.88"/>
<circle cx="434.65" cy="175.1" r="2" fill="#5C95F8" fill-opacity="0.88"/>
<circle cx="440.56" cy="181.46" r="2" fill="#F6756D" fill-opacity="0.85"/>
<circle cx="446.32" cy="181.46" r="2" fill="#F6756D" fill-opacity="0.85"/>
<circle cx="437.39" cy="181.46" r="2" fill="#0AB040" fill-opacity="0.9"/>
<circle cx="432.92" cy="181.46" r="2" fill="#5C95F8" fill-opacity="0.88"/>
<circle cx="433.79" cy="181.46" r="2" fill="#5C95F8" fill-opacity="0.88"/>
<circle cx="434.65" cy="181.46" r="2" fill="#5C95F8" fill-opacity="0.88"/>
<circle cx="439.26" cy="187.82" r="2" fill="#F6756D" fill-opacity="0.85"/>
<circle cx="443.72" cy="187.82" r="2" fill="#F6756D" fill-opacity="0.85"/>
<circle cx="451.79" cy="187.82" r="2" fill="#F6756D" fill-opacity="0.85"/>
<circle cx="435.66" cy="187.82" r="2" fill="#0AB040" fill-opacity="0.9"/>
<circle cx="432.92" cy="187.82" r="2" fill="#5C95F8" fill-opacity="0.88"/>
<circle cx="433.79" cy="187.82" r="2" fill="#5C95F8" fill-opacity="0.88"/>
<circle cx="434.65" cy="187.82" r="2" fill="#5C95F8" fill-opacity="0.88"/>
<circle cx="435.95" cy="194.18" r="2" fill="#F6756D" fill-opacity="0.85"/>
<circle cx="440.99" cy="194.18" r="2" fill="#F6756D" fill-opacity="0.85"/>
<circle cx="457.84" cy="194.18" r="2" fill="#F6756D" fill-opacity="0.85"/>
<circle cx="428.89" cy="194.18" r="2" fill="#0AB040" fill-opacity="0.9"/>
<circle cx="432.92" cy="194.18" r="2" fill="#5C95F8" fill-opacity="0.88"/>
<circle cx="433.79" cy="194.18" r="2" fill="#5C95F8" fill-opacity="0.88"/>
<circle cx="434.65" cy="194.18" r="2" fill="#5C95F8" fill-opacity="0.88"/>
<circle cx="440.12" cy="200.54" r="2" fill="#F6756D" fill-opacity="0.85"/>
<circle cx="437.39" cy="200.54" r="2" fill="#0AB040" fill-opacity="0.9"/>
<circle cx="432.92" cy="200.54" r="2" fill="#5C95F8" fill-opacity="0.88"/>
<circle cx="433.79" cy="200.54" r="2" fill="#5C95F8" fill-opacity="0.88"/>
<circle cx="434.65" cy="200.54" r="2" fill="#5C95F8" fill-opacity="0.88"/>
<circle cx="437.82" cy="206.9" r="2" fill="#F6756D" fill-opacity="0.85"/>
<circle cx="443.29" cy="206.9" r="2" fill="#F6756D" fill-opacity="0.85"/>
<circle cx="430.33" cy="206.9" r="2" fill="#0AB040" fill-opacity="0.9"/>
<circle cx="432.92" cy="206.9" r="2" fill="#5C95F8" fill-opacity="0.88"/>
<circle cx="433.79" cy="206.9" r="2" fill="#5C95F8" fill-opacity="0.88"/>
<circle cx="434.65" cy="206.9" r="2" fill="#5C95F8" fill-opacity="0.88"/>
<circle cx="438.4" cy="213.26" r="2" fill="#F6756D" fill-opacity="0.85"/>
<circle cx="444.59" cy="213.26" r="2" fill="#F6756D" fill-opacity="0.85"/>
<circle cx="435.66" cy="213.26" r="2" fill="#0AB040" fill-opacity="0.9"/>
<circle cx="432.92" cy="213.26" r="2" fill="#5C95F8" fill-opacity="0.88"/>
<circle cx="433.79" cy="213.26" r="2" fill="#5C95F8" fill-opacity="0.88"/>
<circle cx="434.65" cy="213.26" r="2" fill="#5C95F8" fill-opacity="0.88"/>
<circle cx="439.26" cy="219.62" r="2" fill="#F6756D" fill-opacity="0.85"/>
<circle cx="442.43" cy="219.62" r="2" fill="#F6756D" fill-opacity="0.85"/>
<circle cx="434.94" cy="219.62" r="2" fill="#0AB040" fill-opacity="0.9"/>
<circle cx="432.92" cy="219.62" r="2" fill="#5C95F8" fill-opacity="0.88"/>
<circle cx="433.79" cy="219.62" r="2" fill="#5C95F8" fill-opacity="0.88"/>
<circle cx="434.65" cy="219.62" r="2" fill="#5C95F8" fill-opacity="0.88"/>
<circle cx="441.42" cy="225.98" r="2" fill="#F6756D" fill-opacity="0.85"/>
<circle cx="446.89" cy="225.98" r="2" fill="#F6756D" fill-opacity="0.85"/>
<circle cx="449.63" cy="225.98" r="2" fill="#F6756D" fill-opacity="0.85"/>
<circle cx="423.28" cy="225.98" r="2" fill="#0AB040" fill-opacity="0.9"/>
<circle cx="428.75" cy="225.98" r="2" fill="#0AB040" fill-opacity="0.9"/>
<circle cx="432.92" cy="225.98" r="2" fill="#5C95F8" fill-opacity="0.88"/>
<circle cx="433.79" cy="225.98" r="2" fill="#5C95F8" fill-opacity="0.88"/>
<circle cx="434.65" cy="225.98" r="2" fill="#5C95F8" fill-opacity="0.88"/>
<circle cx="437.82" cy="232.34" r="2" fill="#F6756D" fill-opacity="0.85"/>
<circle cx="434.94" cy="232.34" r="2" fill="#0AB040" fill-opacity="0.9"/>
<circle cx="432.92" cy="232.34" r="2" fill="#5C95F8" fill-opacity="0.88"/>
<circle cx="433.79" cy="232.34" r="2" fill="#5C95F8" fill-opacity="0.88"/>
<circle cx="434.65" cy="232.34" r="2" fill="#5C95F8" fill-opacity="0.88"/>
<circle cx="438.4" cy="238.7" r="2" fill="#F6756D" fill-opacity="0.85"/>
<circle cx="440.12" cy="238.7" r="2" fill="#F6756D" fill-opacity="0.85"/>
<circle cx="431.05" cy="238.7" r="2" fill="#0AB040" fill-opacity="0.9"/>
<circle cx="432.92" cy="238.7" r="2" fill="#5C95F8" fill-opacity="0.88"/>
<circle cx="433.79" cy="238.7" r="2" fill="#5C95F8" fill-opacity="0.88"/>
<circle cx="434.65" cy="238.7" r="2" fill="#5C95F8" fill-opacity="0.88"/>
<circle cx="438.4" cy="245.06" r="2" fill="#F6756D" fill-opacity="0.85"/>
<circle cx="434.94" cy="245.06" r="2" fill="#0AB040" fill-opacity="0.9"/>
<circle cx="432.92" cy="245.06" r="2" fill="#5C95F8" fill-opacity="0.88"/>
<circle cx="433.79" cy="245.06" r="2" fill="#5C95F8" fill-opacity="0.88"/>
<circle cx="434.65" cy="245.06" r="2" fill="#5C95F8" fill-opacity="0.88"/>
<circle cx="438.4" cy="251.42" r="2" fill="#F6756D" fill-opacity="0.85"/>
<circle cx="432.06" cy="251.42" r="2" fill="#0AB040" fill-opacity="0.9"/>
<circle cx="432.92" cy="251.42" r="2" fill="#5C95F8" fill-opacity="0.88"/>
<circle cx="433.79" cy="251.42" r="2" fill="#5C95F8" fill-opacity="0.88"/>
<circle cx="434.65" cy="251.42" r="2" fill="#5C95F8" fill-opacity="0.88"/>
<circle cx="438.4" cy="257.78" r="2" fill="#F6756D" fill-opacity="0.85"/>
<circle cx="431.05" cy="257.78" r="2" fill="#0AB040" fill-opacity="0.9"/>
<circle cx="432.92" cy="257.78" r="2" fill="#5C95F8" fill-opacity="0.88"/>
<circle cx="433.79" cy="257.78" r="2" fill="#5C95F8" fill-opacity="0.88"/>
<circle cx="434.65" cy="257.78" r="2" fill="#5C95F8" fill-opacity="0.88"/>
<circle cx="438.4" cy="264.14" r="2" fill="#F6756D" fill-opacity="0.85"/>
<circle cx="431.77" cy="264.14" r="2" fill="#0AB040" fill-opacity="0.9"/>
<circle cx="432.92" cy="264.14" r="2" fill="#5C95F8" fill-opacity="0.88"/>
<circle cx="433.79" cy="264.14" r="2" fill="#5C95F8" fill-opacity="0.88"/>
<circle cx="434.65" cy="264.14" r="2" fill="#5C95F8" fill-opacity="0.88"/>
<circle cx="434.22" cy="270.5" r="2" fill="#F6756D" fill-opacity="0.85"/>
<circle cx="431.05" cy="270.5" r="2" fill="#0AB040" fill-opacity="0.9"/>
<circle cx="432.92" cy="270.5" r="2" fill="#5C95F8" fill-opacity="0.88"/>
<circle cx="433.79" cy="270.5" r="2" fill="#5C95F8" fill-opacity="0.88"/>
<circle cx="434.65" cy="270.5" r="2" fill="#5C95F8" fill-opacity="0.88"/>
<circle cx="434.22" cy="276.86" r="2" fill="#F6756D" fill-opacity="0.85"/>
<circle cx="432.06" cy="276.86" r="2" fill="#0AB040" fill-opacity="0.9"/>
<circle cx="432.92" cy="276.86" r="2" fill="#5C95F8" fill-opacity="0.88"/>
<circle cx="433.79" cy="276.86" r="2" fill="#5C95F8" fill-opacity="0.88"/>
<circle cx="434.65" cy="276.86" r="2" fill="#5C95F8" fill-opacity="0.88"/>
<circle cx="434.22" cy="283.22" r="2" fill="#F6756D" fill-opacity="0.85"/>
<circle cx="429.32" cy="283.22" r="2" fill="#0AB040" fill-opacity="0.9"/>
<circle cx="432.92" cy="283.22" r="2" fill="#5C95F8" fill-opacity="0.88"/>
<circle cx="433.79" cy="283.22" r="2" fill="#5C95F8" fill-opacity="0.88"/>
<circle cx="434.65" cy="283.22" r="2" fill="#5C95F8" fill-opacity="0.88"/>
<circle cx="426.88" cy="289.58" r="2" fill="#F6756D" fill-opacity="0.85"/>
<circle cx="428.75" cy="289.58" r="2" fill="#0AB040" fill-opacity="0.9"/>
<circle cx="432.92" cy="289.58" r="2" fill="#5C95F8" fill-opacity="0.88"/>
<circle cx="433.79" cy="289.58" r="2" fill="#5C95F8" fill-opacity="0.88"/>
<circle cx="434.65" cy="289.58" r="2" fill="#5C95F8" fill-opacity="0.88"/>
<circle cx="423.85" cy="295.94" r="2" fill="#F6756D" fill-opacity="0.85"/>
<circle cx="426.88" cy="295.94" r="2" fill="#F6756D" fill-opacity="0.85"/>
<circle cx="425.58" cy="295.94" r="2" fill="#0AB040" fill-opacity="0.9"/>
<circle cx="436.96" cy="295.94" r="2" fill="#0AB040" fill-opacity="0.9"/>
<circle cx="432.92" cy="295.94" r="2" fill="#5C95F8" fill-opacity="0.88"/>
<circle cx="433.79" cy="295.94" r="2" fill="#5C95F8" fill-opacity="0.88"/>
<circle cx="434.65" cy="295.94" r="2" fill="#5C95F8" fill-opacity="0.88"/>
<circle cx="426.88" cy="302.3" r="2" fill="#F6756D" fill-opacity="0.85"/>
<circle cx="428.75" cy="302.3" r="2" fill="#0AB040" fill-opacity="0.9"/>
<circle cx="432.92" cy="302.3" r="2" fill="#5C95F8" fill-opacity="0.88"/>
<circle cx="433.79" cy="302.3" r="2" fill="#5C95F8" fill-opacity="0.88"/>
<circle cx="434.65" cy="302.3" r="2" fill="#5C95F8" fill-opacity="0.88"/>
<circle cx="414.2" cy="308.66" r="2" fill="#F6756D" fill-opacity="0.85"/>
<circle cx="423.85" cy="308.66" r="2" fill="#F6756D" fill-opacity="0.85"/>
<circle cx="428.75" cy="308.66" r="2" fill="#0AB040" fill-opacity="0.9"/>
<circle cx="432.92" cy="308.66" r="2" fill="#5C95F8" fill-opacity="0.88"/>
<circle cx="433.79" cy="308.66" r="2" fill="#5C95F8" fill-opacity="0.88"/>
<circle cx="434.65" cy="308.66" r="2" fill="#5C95F8" fill-opacity="0.88"/>
<circle cx="420.54" cy="315.02" r="2" fill="#F6756D" fill-opacity="0.85"/>
<circle cx="426.88" cy="315.02" r="2" fill="#F6756D" fill-opacity="0.85"/>
<circle cx="422.41" cy="315.02" r="2" fill="#0AB040" fill-opacity="0.9"/>
<circle cx="424.14" cy="315.02" r="2" fill="#0AB040" fill-opacity="0.9"/>
<circle cx="432.92" cy="315.02" r="2" fill="#5C95F8" fill-opacity="0.88"/>
<circle cx="433.79" cy="315.02" r="2" fill="#5C95F8" fill-opacity="0.88"/>
<circle cx="434.65" cy="315.02" r="2" fill="#5C95F8" fill-opacity="0.88"/>
<circle cx="407.44" cy="321.38" r="2" fill="#F6756D" fill-opacity="0.85"/>
<circle cx="425" cy="321.38" r="2" fill="#F6756D" fill-opacity="0.85"/>
<circle cx="428.75" cy="321.38" r="2" fill="#0AB040" fill-opacity="0.9"/>
<circle cx="432.92" cy="321.38" r="2" fill="#5C95F8" fill-opacity="0.88"/>
<circle cx="433.79" cy="321.38" r="2" fill="#5C95F8" fill-opacity="0.88"/>
<circle cx="434.65" cy="321.38" r="2" fill="#5C95F8" fill-opacity="0.88"/>
<circle cx="405.56" cy="327.74" r="2" fill="#F6756D" fill-opacity="0.85"/>
<circle cx="424.14" cy="327.74" r="2" fill="#F6756D" fill-opacity="0.85"/>
<circle cx="418.67" cy="327.74" r="2" fill="#0AB040" fill-opacity="0.9"/>
<circle cx="422.41" cy="327.74" r="2" fill="#0AB040" fill-opacity="0.9"/>
<circle cx="432.92" cy="327.74" r="2" fill="#5C95F8" fill-opacity="0.88"/>
<circle cx="433.79" cy="327.74" r="2" fill="#5C95F8" fill-opacity="0.88"/>
<circle cx="434.65" cy="327.74" r="2" fill="#5C95F8" fill-opacity="0.88"/>
<circle cx="412.33" cy="334.1" r="2" fill="#F6756D" fill-opacity="0.85"/>
<circle cx="430.04" cy="334.1" r="2" fill="#F6756D" fill-opacity="0.85"/>
<circle cx="416.51" cy="334.1" r="2" fill="#0AB040" fill-opacity="0.9"/>
<circle cx="422.41" cy="334.1" r="2" fill="#0AB040" fill-opacity="0.9"/>
<circle cx="432.92" cy="334.1" r="2" fill="#5C95F8" fill-opacity="0.88"/>
<circle cx="433.79" cy="334.1" r="2" fill="#5C95F8" fill-opacity="0.88"/>
<circle cx="434.65" cy="334.1" r="2" fill="#5C95F8" fill-opacity="0.88"/>
<circle cx="425" cy="340.46" r="2" fill="#F6756D" fill-opacity="0.85"/>
<circle cx="415.93" cy="340.46" r="2" fill="#0AB040" fill-opacity="0.9"/>
<circle cx="419.1" cy="340.46" r="2" fill="#0AB040" fill-opacity="0.9"/>
<circle cx="432.92" cy="340.46" r="2" fill="#5C95F8" fill-opacity="0.88"/>
<circle cx="433.79" cy="340.46" r="2" fill="#5C95F8" fill-opacity="0.88"/>
<circle cx="434.65" cy="340.46" r="2" fill="#5C95F8" fill-opacity="0.88"/>
<circle cx="412.33" cy="346.82" r="2" fill="#F6756D" fill-opacity="0.85"/>
<circle cx="420.54" cy="346.82" r="2" fill="#F6756D" fill-opacity="0.85"/>
<circle cx="407.44" cy="346.82" r="2" fill="#0AB040" fill-opacity="0.9"/>
<circle cx="409.6" cy="346.82" r="2" fill="#0AB040" fill-opacity="0.9"/>
<circle cx="418.67" cy="346.82" r="2" fill="#0AB040" fill-opacity="0.9"/>
<circle cx="432.92" cy="346.82" r="2" fill="#5C95F8" fill-opacity="0.88"/>
<circle cx="433.79" cy="346.82" r="2" fill="#5C95F8" fill-opacity="0.88"/>
<circle cx="434.65" cy="346.82" r="2" fill="#5C95F8" fill-opacity="0.88"/>
<circle cx="410.17" cy="353.18" r="2" fill="#F6756D" fill-opacity="0.85"/>
<circle cx="417.8" cy="353.18" r="2" fill="#F6756D" fill-opacity="0.85"/>
<circle cx="403.55" cy="353.18" r="2" fill="#0AB040" fill-opacity="0.9"/>
<circle cx="409.6" cy="353.18" r="2" fill="#0AB040" fill-opacity="0.9"/>
<circle cx="426.01" cy="353.18" r="2" fill="#0AB040" fill-opacity="0.9"/>
<circle cx="432.92" cy="353.18" r="2" fill="#5C95F8" fill-opacity="0.88"/>
<circle cx="433.79" cy="353.18" r="2" fill="#5C95F8" fill-opacity="0.88"/>
<circle cx="434.65" cy="353.18" r="2" fill="#5C95F8" fill-opacity="0.88"/>
<rect x="397.8" y="12.3" width="131.2" height="344.6" fill="none" stroke="#aaa" stroke-width="0.7"/>
<path d="M396.6 16.1H397.8M396.6 22.46H397.8M396.6 28.82H397.8M396.6 35.18H397.8M396.6 41.54H397.8M396.6 47.9H397.8M396.6 54.26H397.8M396.6 60.62H397.8M396.6 66.98H397.8M396.6 73.34H397.8M396.6 79.7H397.8M396.6 86.06H397.8M396.6 92.42H397.8M396.6 98.78H397.8M396.6 105.14H397.8M396.6 111.5H397.8M396.6 117.86H397.8M396.6 124.22H397.8M396.6 130.58H397.8M396.6 136.94H397.8M396.6 143.3H397.8M396.6 149.66H397.8M396.6 156.02H397.8M396.6 162.38H397.8M396.6 168.74H397.8M396.6 175.1H397.8M396.6 181.46H397.8M396.6 187.82H397.8M396.6 194.18H397.8M396.6 200.54H397.8M396.6 206.9H397.8M396.6 213.26H397.8M396.6 219.62H397.8M396.6 225.98H397.8M396.6 232.34H397.8M396.6 238.7H397.8M396.6 245.06H397.8M396.6 251.42H397.8M396.6 257.78H397.8M396.6 264.14H397.8M396.6 270.5H397.8M396.6 276.86H397.8M396.6 283.22H397.8M396.6 289.58H397.8M396.6 295.94H397.8M396.6 302.3H397.8M396.6 308.66H397.8M396.6 315.02H397.8M396.6 321.38H397.8M396.6 327.74H397.8M396.6 334.1H397.8M396.6 340.46H397.8M396.6 346.82H397.8M396.6 353.18H397.8" stroke="#333" stroke-width="0.8" fill="none"/>
<g transform="translate(395.8 0) scale(0.9 1)" font-family="Liberation Sans, sans-serif" font-size="4.9" fill="#2e2e2e" stroke="#2e2e2e" stroke-width="0.12" text-anchor="end" filter="url(#tb)">
<text x="0" y="18.15">L−Lysine</text>
<text x="0" y="24.51">Cadaverine</text>
<text x="0" y="30.87">Oxaloacetic acid</text>
<text x="0" y="37.23">L−ornithine</text>
<text x="0" y="43.59">Uridine</text>
<text x="0" y="49.95">N−Acetylmannosamine</text>
<text x="0" y="56.31">2−Hydroxycinnamic acid</text>
<text x="0" y="62.67">Medroxyprogesterone</text>
<text x="0" y="69.03">D−Ribose</text>
<text x="0" y="75.39">4−Hydroxybenzaldehyde</text>
<text x="0" y="81.75">Gamma−Aminobutyric acid</text>
<text x="0" y="88.11">Estradiol</text>
<text x="0" y="94.47">Subaphylline</text>
<text x="0" y="100.83">Indolelactic acid</text>
<text x="0" y="107.19">Xanthine</text>
<text x="0" y="113.55">Dimethylglycine</text>
<text x="0" y="119.91">Citric acid</text>
<text x="0" y="126.27">Repaglinide</text>
<text x="0" y="132.63">Mesaconate</text>
<text x="0" y="138.99">Triethylamine</text>
<text x="0" y="145.35">2−Methylserine</text>
<text x="0" y="151.71">Erucic acid</text>
<text x="0" y="158.07">Alprenolol</text>
<text x="0" y="164.43">Glycerophosphocholine</text>
<text x="0" y="170.79">M−Cresol</text>
<text x="0" y="177.15">Vitamin D3</text>
<text x="0" y="183.51">Thymidine</text>
<text x="0" y="189.87">24,25−Dihydrolanosterol</text>
<text x="0" y="196.23">Isophorone</text>
<text x="0" y="202.59">Pipecolic acid</text>
<text x="0" y="208.95">L−Methionine</text>
<text x="0" y="215.31">L−2−Hydroxyglutaric acid</text>
<text x="0" y="221.67">Cellobiose</text>
<text x="0" y="228.03">Oxopentanoate</text>
<text x="0" y="234.39">Lysophosphatidylcholine</text>
<text x="0" y="240.75">5−Amino−2−oxopentanoic acid</text>
<text x="0" y="247.11">Guanosine</text>
<text x="0" y="253.47">Tetrahydropteridine</text>
<text x="0" y="259.83">Phenylethylamine</text>
<text x="0" y="266.19">Phytosphingosine</text>
<text x="0" y="272.55">Cholesteryl−beta−D−glucoside</text>
<text x="0" y="278.91">Tyrosol</text>
<text x="0" y="285.27">Cholesterol</text>
<text x="0" y="291.63">Lactose</text>
<text x="0" y="297.99">L−Isoleucine</text>
<text x="0" y="304.35">Sucrose</text>
<text x="0" y="310.71">Nornicotine</text>
<text x="0" y="317.07">Mannitol</text>
<text x="0" y="323.43">Gluconic acid</text>
<text x="0" y="329.79">Glyceric acid</text>
<text x="0" y="336.15">L−Methionine S−oxide</text>
<text x="0" y="342.51">Trans−Cinnamate</text>
<text x="0" y="348.87">Xylitol</text>
<text x="0" y="355.23">Palmitoleic acid</text>
</g>
<path d="M433.5 356.9V358.4M469.5 356.9V358.4M505.5 356.9V358.4" stroke="#333" stroke-width="0.6" fill="none"/>
<g font-family="Liberation Sans, sans-serif" font-size="4.8" fill="#333" stroke="#333" stroke-width="0.1" text-anchor="middle" filter="url(#tb)">
<text x="433.5" y="363.8">0</text>
<text x="469.5" y="363.8">25</text>
<text x="505.5" y="363.8">50</text>
</g>
<text x="469.6" y="370" font-family="Liberation Sans, sans-serif" font-size="5.55" fill="#222" stroke="#222" stroke-width="0.12" text-anchor="middle" filter="url(#tb)">Z-score</text>
<text x="534" y="19.7" font-family="Liberation Sans, sans-serif" font-size="4.7" fill="#222" stroke="#222" stroke-width="0.12" filter="url(#tb)">Group</text>
<circle cx="536.2" cy="25.1" r="1.85" fill="#F6756D" fill-opacity="0.75"/>
<text x="539.6" y="26.75" font-family="Liberation Sans, sans-serif" font-size="4.6" fill="#222" stroke="#222" stroke-width="0.12" filter="url(#tb)">FS</text>
<circle cx="536.2" cy="31.7" r="1.85" fill="#0AB040" fill-opacity="0.75"/>
<text x="539.6" y="33.35" font-family="Liberation Sans, sans-serif" font-size="4.6" fill="#222" stroke="#222" stroke-width="0.12" filter="url(#tb)">RS</text>
<circle cx="536.2" cy="38" r="1.85" fill="#5C95F8" fill-opacity="0.75"/>
<text x="539.6" y="39.65" font-family="Liberation Sans, sans-serif" font-size="4.6" fill="#222" stroke="#222" stroke-width="0.12" filter="url(#tb)">HS</text>
</svg></body></html>
